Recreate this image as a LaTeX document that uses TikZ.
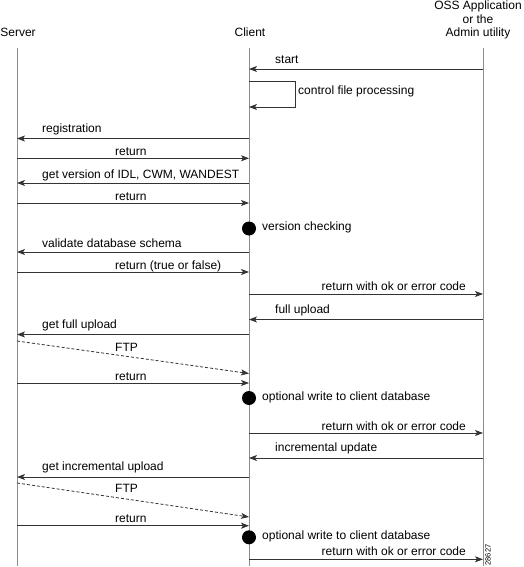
\documentclass[tikz,border=0pt]{standalone}
\usepackage{fontspec}
\setmainfont{Liberation Sans}
\usetikzlibrary{arrows.meta}

\begin{document}
\begin{tikzpicture}[x=1pt,y=-1pt,>={Stealth[length=8pt,width=6pt,inset=2pt]},
        life/.style={draw=gray!90,line width=0.8pt},
        msg/.style={->,draw=black!80,line width=0.8pt},
        ftp/.style={msg,dash pattern=on 3pt off 2pt},
        lbl/.style={inner sep=0pt,font=\fontsize{12}{13.5}\selectfont},
        dot/.style={circle,fill=black,inner sep=0pt,minimum size=14pt}]

  \useasboundingbox (0,0) rectangle (524,567);

  % participants and lifelines
  \node[lbl,anchor=base] (srv) at (18,37) {Server};
  \node[lbl,anchor=base] (cli) at (250,37) {Client};
  \node[lbl,anchor=south,align=center] (oss) at (478,39.5) {OSS Application\\or the\\Admin utility};

  \coordinate (S) at (17,48);
  \coordinate (C) at (249,48);
  \coordinate (O) at (483,48);

  \draw[life] (S) -- (S |- 0,566);
  \draw[life] (C) -- (C |- 0,566);
  \draw[life] (O) -- (O |- 0,566);

  % start-up
  \draw[msg] (O |- 0,69) -- (C |- 0,69);
  \node[lbl,anchor=base west] (start) at (275,63.5) {start};
  \draw[msg] (C |- 0,81) -- ++(46,0) |- (C |- 0,107);
  \node[lbl,anchor=base west] (ctrl) at (298,95) {control file processing};

  \draw[msg] (C |- 0,138.5) -- (S |- 0,138.5);
  \node[lbl,anchor=base west] (reg) at (42,132) {registration};
  \draw[msg] (S |- 0,158.3) -- (C |- 0,158.3);
  \node[lbl,anchor=base west] (ret1) at (115,155.5) {return};
  \draw[msg] (C |- 0,183) -- (S |- 0,183);
  \node[lbl,anchor=base west] (getv) at (42,178.5) {get version of IDL, CWM, WANDEST};
  \draw[msg] (S |- 0,203) -- (C |- 0,203);
  \node[lbl,anchor=base west] (ret2) at (115,200.5) {return};

  \node[dot] (chk) at (C |- 0,228.5) {};
  \node[lbl,anchor=base west] (chkl) at (262,230.5) {version checking};

  \draw[msg] (C |- 0,252) -- (S |- 0,252);
  \node[lbl,anchor=base west] (val) at (42,247.5) {validate database schema};
  \draw[msg] (S |- 0,272) -- (C |- 0,272);
  \node[lbl,anchor=base west] (ret3) at (115,269.5) {return (true or false)};
  \draw[msg] (C |- 0,294) -- (O |- 0,294);
  \node[lbl,anchor=base east] (ok1) at (466,290.7) {return with ok or error code};

  % full upload
  \draw[msg] (O |- 0,319.5) -- (C |- 0,319.5);
  \node[lbl,anchor=base west] (full) at (275,313.5) {full upload};
  \draw[msg] (C |- 0,334.5) -- (S |- 0,334.5);
  \node[lbl,anchor=base west] (getf) at (42,328.5) {get full upload};
  \draw[ftp] (S |- 0,341) -- (C |- 0,373.5);
  \node[lbl,anchor=base west] (ftp1) at (115,351.7) {FTP};
  \draw[msg] (S |- 0,383) -- (C |- 0,383);
  \node[lbl,anchor=base west] (ret4) at (115,380) {return};
  \node[dot] (wr1) at (C |- 0,398) {};
  \node[lbl,anchor=base west] (wr1l) at (262,400) {optional write to client database};
  \draw[msg] (C |- 0,433) -- (O |- 0,433);
  \node[lbl,anchor=base east] (ok2) at (466,430) {return with ok or error code};

  % incremental update
  \draw[msg] (O |- 0,458) -- (C |- 0,458);
  \node[lbl,anchor=base west] (inc) at (275,451.5) {incremental update};
  \draw[msg] (C |- 0,477) -- (S |- 0,477);
  \node[lbl,anchor=base west] (geti) at (42,470) {get incremental upload};
  \draw[ftp] (S |- 0,483) -- (C |- 0,517);
  \node[lbl,anchor=base west] (ftp2) at (115,492.7) {FTP};
  \draw[msg] (S |- 0,525.7) -- (C |- 0,525.7);
  \node[lbl,anchor=base west] (ret5) at (115,522.7) {return};
  \node[dot] (wr2) at (C |- 0,537.3) {};
  \node[lbl,anchor=base west] (wr2l) at (262,539) {optional write to client database};
  \draw[msg] (C |- 0,559.3) -- (O |- 0,559.3);
  \node[lbl,anchor=base east] (ok3) at (466,555) {return with ok or error code};

  \node[inner sep=0pt,font=\fontsize{7.5}{7.5}\selectfont,rotate=90] (num) at (488,555) {28627};

\end{tikzpicture}
\end{document}
